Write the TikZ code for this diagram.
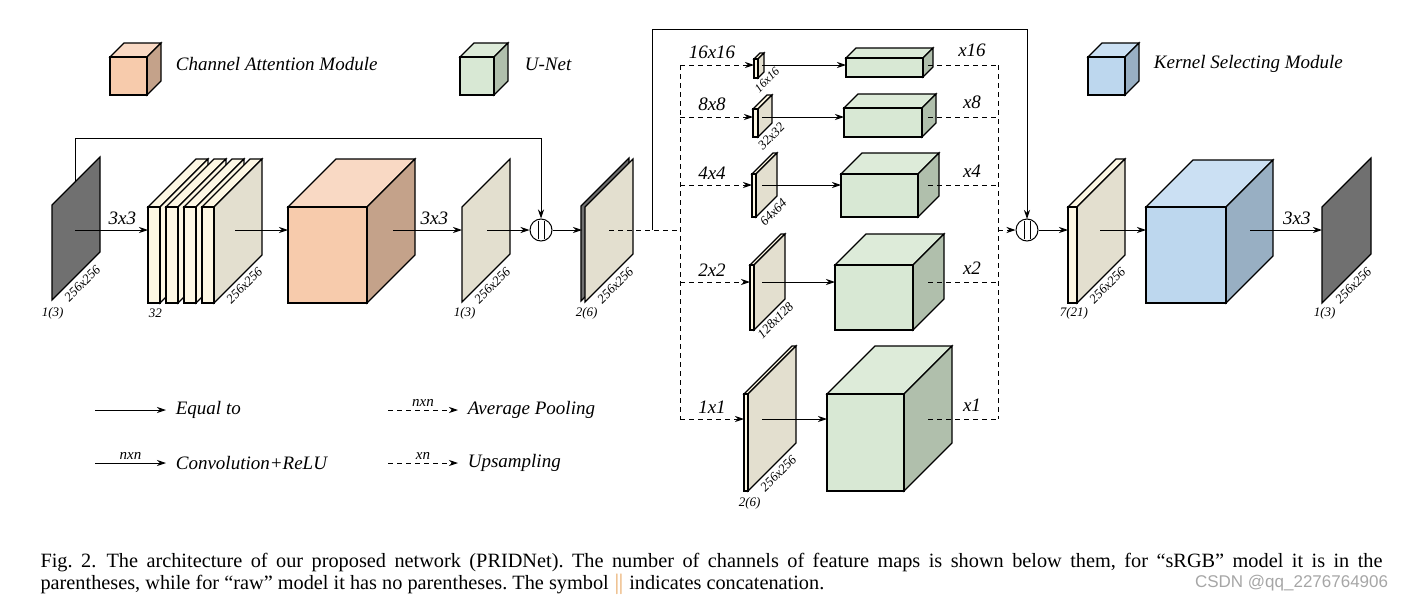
\documentclass[tikz,border=0pt]{standalone}
\usepackage{fontspec}
\setmainfont{Liberation Serif}
\usetikzlibrary{arrows.meta}
\definecolor{dark}{HTML}{707070}
\definecolor{beige}{HTML}{E3DFCF}
\definecolor{cream}{HTML}{FDF7E3}
\definecolor{orF}{HTML}{F7CBAC}\definecolor{orT}{HTML}{F9D9C4}\definecolor{orS}{HTML}{C4A28A}
\definecolor{grF}{HTML}{D8E8D4}\definecolor{grT}{HTML}{DDEBD9}\definecolor{grS}{HTML}{B0BFAC}
\definecolor{blF}{HTML}{BDD7EE}\definecolor{blT}{HTML}{CBE0F3}\definecolor{blS}{HTML}{98AFC3}
\definecolor{capor}{HTML}{E08A2E}
% x, ytop, w, h, d, front, top, side
\newcommand\mycube[8]{%
 \filldraw[fill=#7] (#1,#2) -- ++(#5,-#5) -- ++(#3,0) -- ++(-#5,#5) -- cycle;
 \filldraw[fill=#8] (#1+#3,#2) -- ++(#5,-#5) -- ++(0,#4) -- ++(-#5,#5) -- cycle;
 \filldraw[fill=#6] (#1,#2) rectangle ++(#3,#4);}
% dark plane: x, ytop, h, d
\newcommand\myplane[4]{\filldraw[fill=dark] (#1,#2) -- ++(#4,-#4) -- ++(0,#3) -- ++(-#4,#4) -- cycle;}
\begin{document}
\begin{tikzpicture}[x=1pt,y=-1pt,line width=1.1pt,
  arr/.style={-{Stealth[length=9pt,width=6pt]},line width=0.9pt},
  dsh/.style={dashed,dash pattern=on 5pt off 4pt,line width=0.9pt},
  lab/.style={font=\fontsize{19}{21}\selectfont\itshape},
  sm/.style={font=\fontsize{13}{14}\selectfont\itshape},
  dim/.style={font=\fontsize{13}{14}\selectfont\itshape,rotate=45,anchor=north,inner sep=4pt},
  cat/.style={circle,draw,line width=1pt,minimum size=22pt,inner sep=0pt}]
\useasboundingbox (0,0) rectangle (1406,603);
% ---- legend top
\mycube{110}{57}{37}{38}{14}{orF}{orT}{orS}
\node[lab,anchor=west] (lg1) at (172,64) {Channel Attention Module};
\mycube{460}{57}{34}{38}{14}{grF}{grT}{grS}
\node[lab,anchor=west] (lg2) at (521,64) {U-Net};
\mycube{1088}{57}{37}{38}{14}{blF}{blT}{blS}
\node[lab,anchor=west] (lg3) at (1150,64) {Kernel Selecting Module};
% ---- main row
\myplane{52}{205}{95}{48}
\node[sm,anchor=west] (n1) at (38,313) {1(3)};
\node[dim] at (76,277) {256x256};
\mycube{148}{207}{12}{96}{48}{cream}{cream}{cream}
\mycube{166}{207}{12}{96}{48}{cream}{cream}{cream}
\mycube{184}{207}{12}{96}{48}{cream}{cream}{cream}
\mycube{202}{207}{12}{96}{48}{cream}{cream}{beige}
\node[sm,anchor=west] (n2) at (145,313) {32};
\node[dim] at (238,279) {256x256};
\mycube{288}{207}{79}{96}{48}{orF}{orT}{orS}
\filldraw[fill=beige] (462,207) -- ++(48,-48) -- ++(0,95) -- ++(-48,48) -- cycle;
\node[sm,anchor=west] (n3) at (450,313) {1(3)};
\node[dim] at (486,279) {256x256};
\myplane{581}{206}{95}{48}
\filldraw[fill=beige] (585,207) -- ++(48,-48) -- ++(0,95) -- ++(-48,48) -- cycle;
\node[sm,anchor=west] (n4) at (572,313) {2(6)};
\node[dim] at (609,279) {256x256};
\node[cat] (c1) at (541,230) {};
\draw[line width=0.9pt] (538,221) -- (538,239) (544,221) -- (544,239);
\coordinate (a0) at (75,230); \coordinate (a1) at (148,230);
\coordinate (a2) at (235,230); \coordinate (a3) at (288,230);
\coordinate (a4) at (393,230); \coordinate (a5) at (462,230);
\coordinate (a6) at (487,230); \coordinate (a7) at (582,230);
\draw[arr] (a0) -- node[lab,above,pos=0.65,yshift=2pt] {3x3} (a1);
\draw[arr] (a2) -- (a3);
\draw[arr] (a4) -- node[lab,above,pos=0.6,yshift=2pt] {3x3} (a5);
\draw[arr] (a6) -- (c1);
\draw[arr] (c1) -- (a7);
\coordinate (s0) at (75,182);
\draw[arr] (s0) |- (541,138) -- (c1);
% ---- U-Net branches
\coordinate (b0) at (609,230); \coordinate (b1) at (652,230); \coordinate (b2) at (680,230);
\draw[dsh] (b0) -- (b2);
\draw[arr] (b1) |- (1027,29) -- (1027,219);
\draw[dsh] (680,65) -- (680,419);
\draw[dsh] (998,65) -- (998,419);
% row 16
\mycube{754}{59}{4}{19}{6}{cream}{cream}{beige}
\mycube{846}{58}{77}{19}{10}{grF}{grT}{grS}
\node[dim,font=\fontsize{12}{13}\selectfont\itshape] at (761,74) {16x16};
% row 8
\mycube{753}{109}{5}{28}{14}{cream}{cream}{beige}
\mycube{844}{108}{78}{29}{14}{grF}{grT}{grS}
\node[dim] at (765,130) {32x32};
% row 4
\mycube{752}{174}{4}{43}{21}{cream}{cream}{beige}
\mycube{841}{174}{77}{43}{21}{grF}{grT}{grS}
\node[dim] at (767,206) {64x64};
% row 2
\mycube{750}{265}{4}{65}{31}{cream}{cream}{beige}
\mycube{835}{265}{78}{65}{31}{grF}{grT}{grS}
\node[dim] at (769,314) {128x128};
% row 1
\mycube{744}{394}{4}{97}{48}{cream}{cream}{beige}
\mycube{827}{394}{77}{97}{48}{grF}{grT}{grS}
\node[dim] at (772,467) {256x256};
\node[sm,anchor=west] (n5) at (735,503) {2(6)};
% branch arrows
\foreach \y/\sl/\sr/\cl/\cr/\pl/\ul in {65/754/762/846/928/16x16/x16, 117/753/762/844/928/8x8/x8, 185/752/762/841/928/4x4/x4, 282/750/762/835/928/2x2/x2, 419/744/762/827/928/1x1/x1}{
  \coordinate (pL\y) at (680,\y); \coordinate (pS\y) at (\sl,\y);
  \coordinate (pT\y) at (\sr,\y); \coordinate (pC\y) at (\cl,\y);
  \coordinate (pR\y) at (\cr,\y); \coordinate (pE\y) at (998,\y);
  \draw[dsh,-{Stealth[length=9pt,width=6pt]}] (pL\y) -- (pS\y);
  \node[lab,anchor=south] at (712,\y-2) {\pl};
  \draw[arr] (pT\y) -- (pC\y);
  \draw[dsh] (pR\y) -- (pE\y);
  \node[lab,anchor=south] at (972,\y-4) {\ul};
}
\node[cat] (c2) at (1027,230) {};
\draw[line width=0.9pt] (1024,221) -- (1024,239) (1030,221) -- (1030,239);
\coordinate (b3) at (998,230);
\draw[dsh,-{Stealth[length=9pt,width=6pt]}] (b3) -- (c2);
% ---- right part
\mycube{1068}{207}{9}{96}{48}{cream}{cream}{beige}
\node[sm,anchor=west] (n6) at (1056,313) {7(21)};
\node[dim] at (1101,279) {256x256};
\mycube{1146}{207}{80}{96}{47}{blF}{blT}{blS}
\myplane{1322}{207}{96}{49}
\node[sm,anchor=west] (n7) at (1310,313) {1(3)};
\node[dim] at (1347,279) {256x256};
\coordinate (r1) at (1068,230); \coordinate (r2) at (1100,230);
\coordinate (r3) at (1146,230); \coordinate (r4) at (1250,230); \coordinate (r5) at (1322,230);
\draw[arr] (c2) -- (r1);
\draw[arr] (r2) -- (r3);
\draw[arr] (r4) -- node[lab,above,pos=0.65,yshift=2pt] {3x3} (r5);
% ---- legend bottom
\coordinate (l1) at (95,410); \coordinate (l2) at (166,410);
\coordinate (l3) at (95,463); \coordinate (l4) at (166,463);
\coordinate (l5) at (388,410); \coordinate (l6) at (458,410);
\coordinate (l7) at (388,463); \coordinate (l8) at (458,463);
\draw[arr] (l1) -- (l2); \node[lab,anchor=west] at (172,410) {Equal to};
\draw[arr] (l3) -- node[sm,above,font=\fontsize{15}{16}\selectfont\itshape] {nxn} (l4); \node[lab,anchor=west] at (172,463) {Convolution+ReLU};
\draw[dsh,-{Stealth[length=9pt,width=6pt]}] (l5) -- node[sm,above,font=\fontsize{15}{16}\selectfont\itshape] {nxn} (l6); \node[lab,anchor=west] at (464,410) {Average Pooling};
\draw[dsh,-{Stealth[length=9pt,width=6pt]}] (l7) -- node[sm,above,font=\fontsize{15}{16}\selectfont\itshape] {xn} (l8); \node[lab,anchor=west] at (464,463) {Upsampling};
% ---- caption
\node[anchor=north west,text width=1342pt,align=justify,inner sep=0pt,font=\frenchspacing\fontsize{20.3}{22}\selectfont] (cap) at (40,553)
 {Fig. 2.\enspace The architecture of our proposed network (PRIDNet). The number of channels of feature maps is shown below them, for “sRGB” model it is in the\linebreak parentheses, while for “raw” model it has no parentheses. The symbol \textcolor{capor}{$\|$} indicates concatenation.};
\node[anchor=east,text=gray!70,font=\fontspec{Liberation Sans}\fontsize{17}{18}\selectfont] (wm) at (1392,583) {CSDN @qq\_2276764906};
\end{tikzpicture}
\end{document}
